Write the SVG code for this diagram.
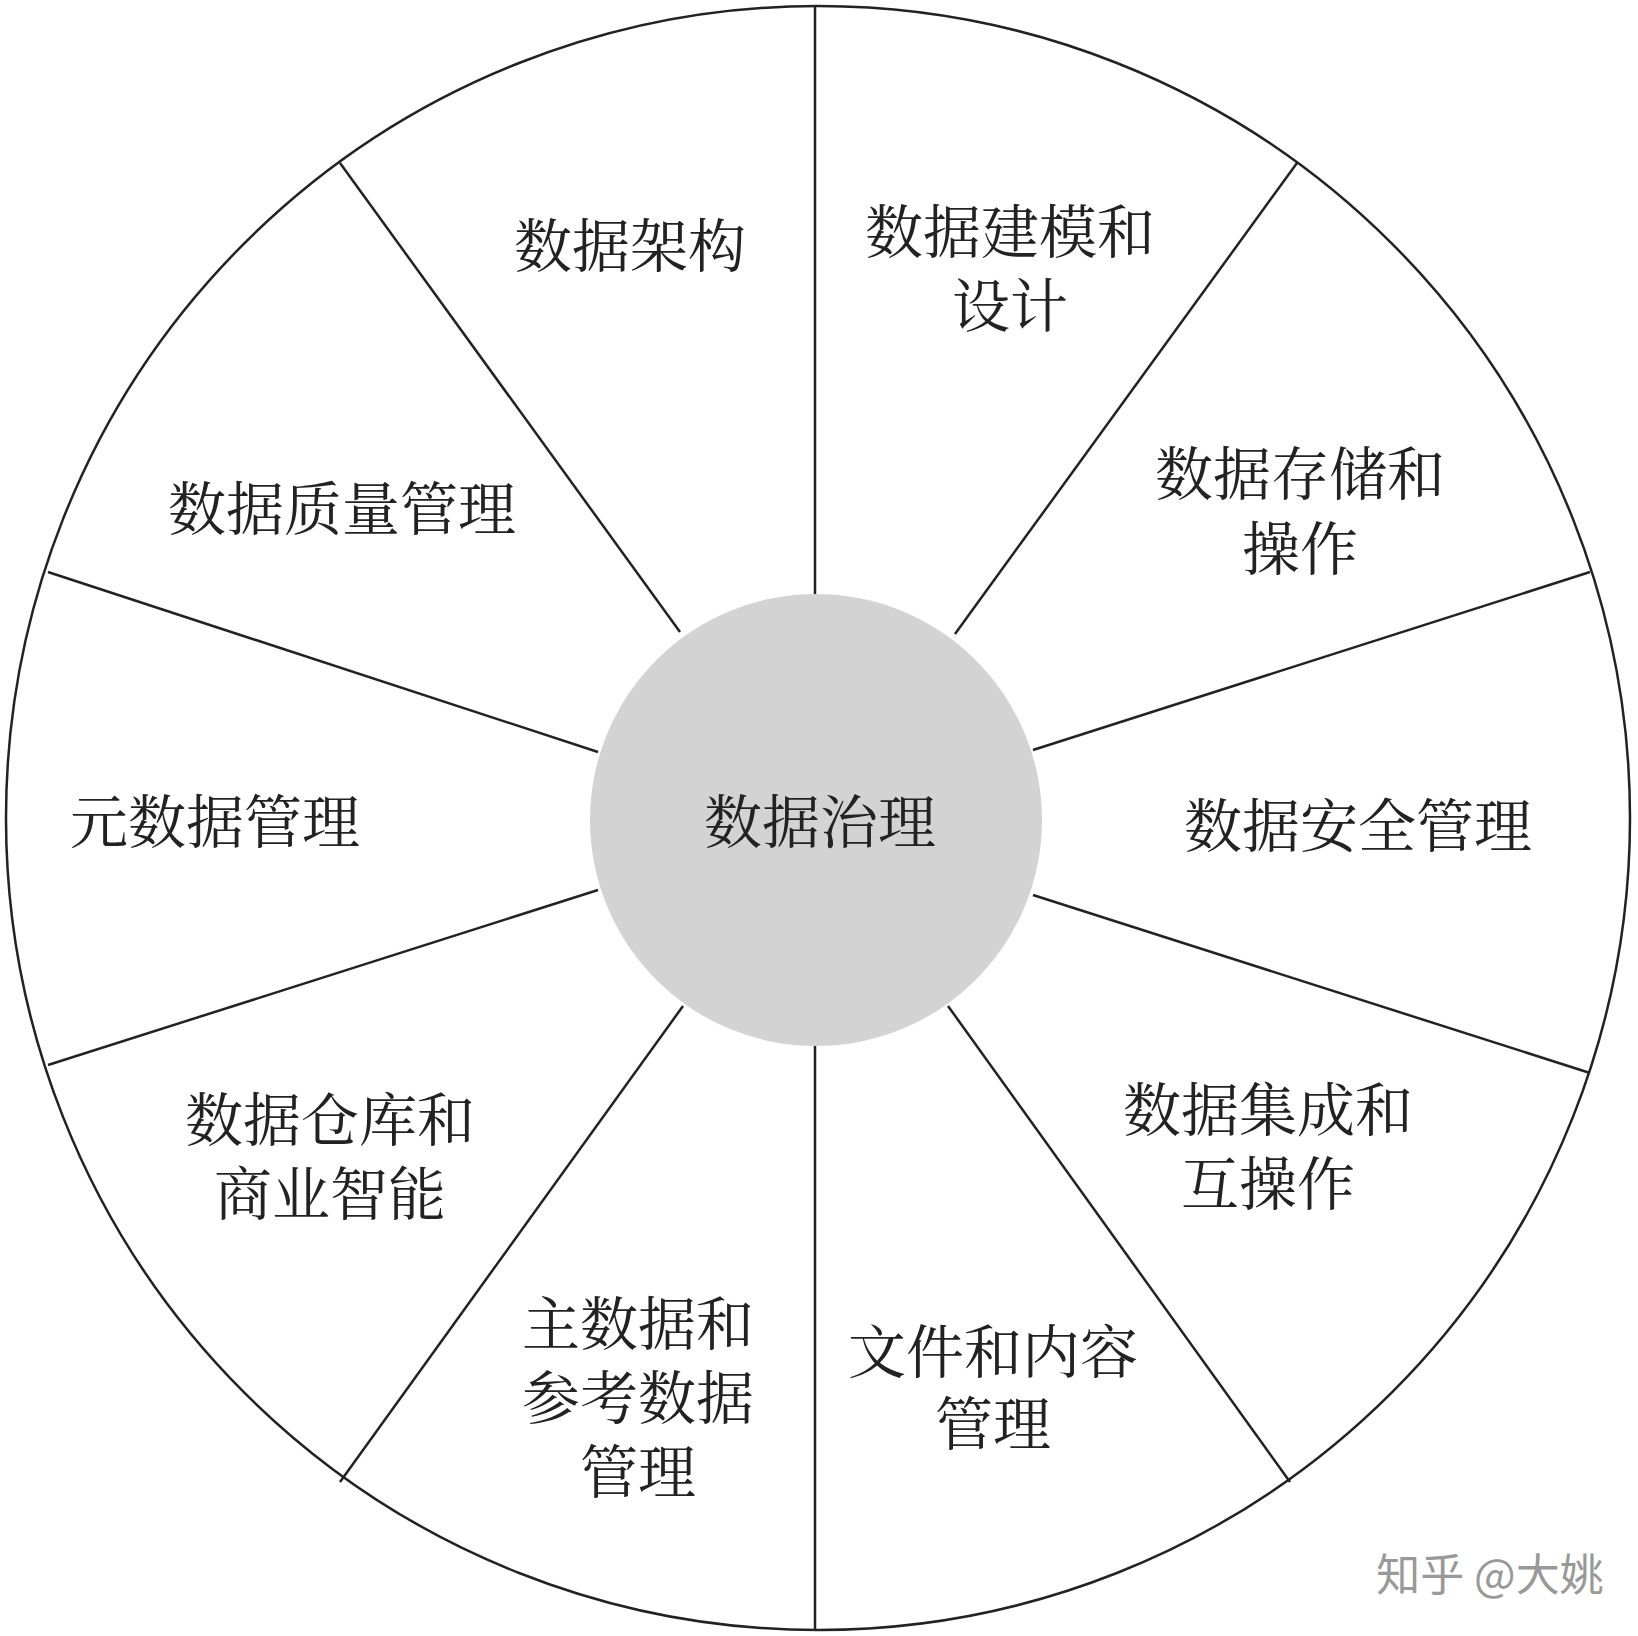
<svg xmlns="http://www.w3.org/2000/svg" width="1638" height="1636" viewBox="0 0 1638 1636">
<style>
.l{stroke:#222;stroke-width:2.5;fill:none}
text{font-family:"Noto Serif CJK SC","Noto Sans CJK SC",serif;font-size:58px;fill:#222;text-anchor:middle;dominant-baseline:central}
</style>
<rect width="1638" height="1636" fill="#fff"/>
<g id="connectors">
<circle class="l" cx="818" cy="818" r="812"/>
<line class="l" x1="815" y1="6" x2="815" y2="596"/>
<line class="l" x1="340" y1="163" x2="680" y2="632"/>
<line class="l" x1="48" y1="572" x2="598" y2="752"/>
<line class="l" x1="48" y1="1065" x2="598" y2="890"/>
<line class="l" x1="340" y1="1482" x2="683" y2="1006"/>
<line class="l" x1="815" y1="1044" x2="815" y2="1630"/>
<line class="l" x1="948" y1="1006" x2="1290" y2="1482"/>
<line class="l" x1="1033" y1="895" x2="1590" y2="1073"/>
<line class="l" x1="1033" y1="750" x2="1590" y2="572"/>
<line class="l" x1="955" y1="634" x2="1297" y2="163"/>
</g>
<g id="center"><circle cx="816" cy="820" r="226" fill="#d3d3d3"/><text x="820" y="818">数据治理</text></g>
<g id="n1"><text x="630" y="242">数据架构</text></g>
<g id="n2"><text x="1010" y="228">数据建模和</text><text x="1010" y="302">设计</text></g>
<g id="n3"><text x="1300" y="470">数据存储和</text><text x="1300" y="545">操作</text></g>
<g id="n4"><text x="1358" y="822">数据安全管理</text></g>
<g id="n5"><text x="1268" y="1106">数据集成和</text><text x="1268" y="1180">互操作</text></g>
<g id="n6"><text x="993" y="1348">文件和内容</text><text x="993" y="1420">管理</text></g>
<g id="n7"><text x="638" y="1320">主数据和</text><text x="638" y="1394">参考数据</text><text x="638" y="1468">管理</text></g>
<g id="n8"><text x="330" y="1116">数据仓库和</text><text x="330" y="1190">商业智能</text></g>
<g id="n9"><text x="215" y="818">元数据管理</text></g>
<g id="n10"><text x="342" y="505">数据质量管理</text></g>
<text x="1490" y="1572" style="font-size:44px;fill:#999;font-family:'Noto Sans CJK SC',sans-serif">知乎 @大姚</text>
</svg>
